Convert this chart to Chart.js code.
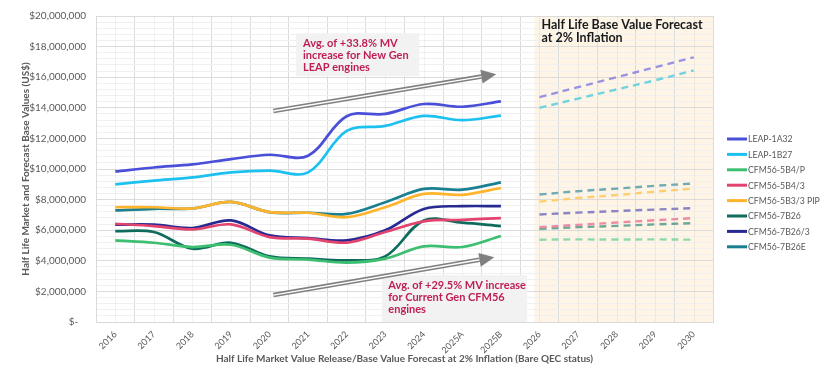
<!DOCTYPE html>
<html>
<head>
<meta charset="utf-8">
<script src="https://cdn.jsdelivr.net/npm/chart.js@4.4.1/dist/chart.umd.min.js"></script>
<style>
  body { margin: 0; background: #ffffff; }
  #wrap { width: 825px; height: 375px; position: relative; }
</style>
</head>
<body>
<div id="wrap"><canvas id="valueChart"></canvas></div>
<script>
// Yillar (2016-2025B piyasa degeri, 2026-2030 tahmin)
const years = ["2016", "2017", "2018", "2019", "2020", "2021", "2022", "2023", "2024", "2025A", "2025B",
               "2026", "2027", "2028", "2029", "2030"];

const engineNames = ["LEAP-1A32", "LEAP-1B27", "CFM56-5B4/P", "CFM56-5B4/3", "CFM56-5B3/3 PIP",
                     "CFM56-7B26", "CFM56-7B26/3", "CFM56-7B26E"];

// Half life market values (2016 - 2025B)
const leap1a32Hist = [9840000, 10100000, 10300000, 10650000, 10930000, 10870000, 13450000, 13600000, 14250000, 14070000, 14420000];
const leap1b27Hist = [9000000, 9240000, 9450000, 9780000, 9890000, 9780000, 12490000, 12820000, 13470000, 13190000, 13490000];
const cfm5b4pHist  = [5340000, 5180000, 4900000, 5050000, 4210000, 4080000, 3880000, 4140000, 4940000, 4900000, 5620000];
const cfm5b43Hist  = [6420000, 6270000, 6050000, 6380000, 5550000, 5450000, 5190000, 5880000, 6580000, 6680000, 6790000];
const cfm5b33Hist  = [7500000, 7500000, 7420000, 7850000, 7180000, 7140000, 6850000, 7500000, 8370000, 8310000, 8760000];
const cfm7b26Hist  = [5940000, 5880000, 4790000, 5180000, 4290000, 4140000, 4030000, 4290000, 6640000, 6490000, 6270000];
const cfm7b263Hist = [6360000, 6360000, 6140000, 6640000, 5660000, 5490000, 5340000, 5990000, 7390000, 7570000, 7570000];
const cfm7b26eHist = [7290000, 7400000, 7420000, 7850000, 7180000, 7140000, 7070000, 7830000, 8700000, 8650000, 9130000];

// Base value forecast at 2% inflation (2026 - 2030)
const leap1a32Fcst = [14700000, 15350000, 16000000, 16650000, 17300000];
const leap1b27Fcst = [14000000, 14600000, 15200000, 15800000, 16440000];
const cfm5b4pFcst  = [5380000, 5400000, 5390000, 5400000, 5380000];
const cfm5b43Fcst  = [6200000, 6350000, 6500000, 6650000, 6790000];
const cfm5b33Fcst  = [7870000, 8100000, 8300000, 8520000, 8720000];
const cfm7b26Fcst  = [6090000, 6200000, 6280000, 6380000, 6460000];
const cfm7b263Fcst = [7030000, 7150000, 7250000, 7350000, 7440000];
const cfm7b26eFcst = [8330000, 8550000, 8720000, 8900000, 9050000];

const yTicks = [0, 2000000, 4000000, 6000000, 8000000, 10000000, 12000000, 14000000, 16000000, 18000000, 20000000];

const histSeries = [leap1a32Hist, leap1b27Hist, cfm5b4pHist, cfm5b43Hist, cfm5b33Hist, cfm7b26Hist, cfm7b263Hist, cfm7b26eHist];
const fcstSeries = [leap1a32Fcst, leap1b27Fcst, cfm5b4pFcst, cfm5b43Fcst, cfm5b33Fcst, cfm7b26Fcst, cfm7b263Fcst, cfm7b26eFcst];

const lineColors = ["#4a4fd8", "#1cc1f0", "#3dbf72", "#e2436f", "#ffb42b", "#0f6b5c", "#272a90", "#1a7f90"];
const dashColors = ["#9a91e0", "#6fd3df", "#8fd9a8", "#ef8ba4", "#ffce70", "#6fa898", "#8a84c4", "#6fabb0"];

const FONT = "Lato, 'Open Sans', sans-serif";
const GREY = "#595959";

const datasets = [];
histSeries.forEach((vals, i) => {
    datasets.push({
        label: engineNames[i],
        data: vals.concat(new Array(fcstSeries[i].length).fill(null)),
        borderColor: lineColors[i],
        backgroundColor: lineColors[i],
        borderWidth: 2.7,
        tension: 0.35,
        pointRadius: 0,
        fill: false,
    });
});
fcstSeries.forEach((vals, i) => {
    datasets.push({
        label: engineNames[i] + " forecast",
        data: new Array(histSeries[i].length).fill(null).concat(vals),
        borderColor: dashColors[i],
        borderWidth: 2.4,
        borderDash: [7, 5],
        tension: 0.35,
        pointRadius: 0,
        fill: false,
    });
});

function money(v) {
    if (v === 0) return "$-   ";
    return "$" + v.toLocaleString("en-US");
}

function drawArrow(ctx, x1, y1, x2, y2) {
    const ang = Math.atan2(y2 - y1, x2 - x1);
    const headLen = 15, headHalf = 7;
    const bx = x2 - Math.cos(ang) * headLen, by = y2 - Math.sin(ang) * headLen;
    ctx.save();
    ctx.lineCap = "butt";
    ctx.strokeStyle = "#808080";
    ctx.lineWidth = 4.5;
    ctx.beginPath(); ctx.moveTo(x1, y1); ctx.lineTo(bx, by); ctx.stroke();
    ctx.strokeStyle = "#ffffff";
    ctx.lineWidth = 1.4;
    ctx.beginPath(); ctx.moveTo(x1, y1); ctx.lineTo(bx, by); ctx.stroke();
    ctx.fillStyle = "#808080";
    ctx.beginPath();
    ctx.moveTo(x2, y2);
    ctx.lineTo(bx + Math.sin(ang) * headHalf, by - Math.cos(ang) * headHalf);
    ctx.lineTo(bx - Math.sin(ang) * headHalf, by + Math.cos(ang) * headHalf);
    ctx.closePath();
    ctx.fill();
    ctx.restore();
}

const overlay = {
    id: "overlay",
    beforeDraw(chart) {
        const { ctx, chartArea, scales } = chart;
        const step = scales.x.getPixelForValue(1) - scales.x.getPixelForValue(0);
        const x0 = scales.x.getPixelForValue(11) - 0.13 * step;
        ctx.save();
        ctx.fillStyle = "#fef5e6";
        ctx.fillRect(x0, chartArea.top, chartArea.right - x0, chartArea.bottom - chartArea.top);
        ctx.restore();
    },
    beforeDatasetsDraw(chart) {
        // ara dikey cizgiler (kategori ortalari)
        const { ctx, chartArea, scales } = chart;
        ctx.save();
        ctx.strokeStyle = "rgba(0,0,0,0.05)";
        ctx.lineWidth = 1;
        years.forEach((y, i) => {
            const px = Math.round(scales.x.getPixelForValue(i)) + 0.5;
            ctx.beginPath(); ctx.moveTo(px, chartArea.top); ctx.lineTo(px, chartArea.bottom); ctx.stroke();
        });
        ctx.restore();
    },
    afterDraw(chart) {
        const { ctx, chartArea, scales } = chart;
        const step = scales.x.getPixelForValue(1) - scales.x.getPixelForValue(0);
        const xAt = idx => scales.x.getPixelForValue(0) + idx * step;
        const yAt = v => scales.y.getPixelForValue(v);
        ctx.save();

        // not kutulari
        ctx.fillStyle = "#f2f2f2";
        ctx.fillRect(xAt(4.69), yAt(18870000), xAt(7.88) - xAt(4.69), yAt(16070000) - yAt(18870000));
        ctx.fillRect(xAt(6.92), yAt(3060000), xAt(10.68) - xAt(6.92), chartArea.bottom - yAt(3060000));

        ctx.fillStyle = "#bf1f57";
        ctx.font = "bold 11px " + FONT;
        ctx.textAlign = "left";
        ctx.textBaseline = "middle";
        ["Avg. of +33.8% MV", "increase for New Gen", "LEAP engines"].forEach((t, i) => {
            ctx.fillText(t, xAt(4.87), yAt(18870000) + 10 + i * 12);
        });
        ["Avg. of +29.5% MV increase", "for Current Gen CFM56", "engines"].forEach((t, i) => {
            ctx.fillText(t, xAt(7.08), yAt(3060000) + 10 + i * 12);
        });

        drawArrow(ctx, xAt(4.1), yAt(13790000), xAt(9.88), yAt(16200000));
        drawArrow(ctx, xAt(4.1), yAt(1760000), xAt(9.83), yAt(4230000));

        // tahmin basligi
        ctx.fillStyle = "#1a1a1a";
        ctx.font = "bold 12.5px " + FONT;
        ctx.fillText("Half Life Base Value Forecast", xAt(11) + 2, chartArea.top + 9);
        ctx.fillText("at 2% Inflation", xAt(11) + 2, chartArea.top + 22);

        // legend
        ctx.font = "8.7px " + FONT;
        ctx.fillStyle = GREY;
        engineNames.forEach((name, i) => {
            const ly = chartArea.top + 123 + i * 15.4;
            const lx = chartArea.right + 14;
            ctx.strokeStyle = lineColors[i];
            ctx.lineWidth = 3;
            ctx.beginPath(); ctx.moveTo(lx, ly); ctx.lineTo(lx + 20, ly); ctx.stroke();
            ctx.fillText(name, lx + 21, ly + 0.5);
        });
        ctx.restore();
    }
};

new Chart(document.getElementById("valueChart"), {
    type: "line",
    data: { labels: years, datasets: datasets },
    options: {
        responsive: true,
        maintainAspectRatio: false,
        animation: false,
        layout: { padding: { top: 14, right: 112, left: 0, bottom: 0 } },
        plugins: {
            legend: { display: false },
            tooltip: { enabled: false },
        },
        scales: {
            x: {
                offset: true,
                grid: { offset: true, color: "#dcdcdc", drawTicks: false },
                border: { color: "#d9d9d9" },
                ticks: { color: GREY, font: { family: FONT, size: 9 }, minRotation: 45, maxRotation: 45, padding: 7 },
                title: {
                    display: true,
                    text: "Half Life Market Value Release/Base Value Forecast at 2% Inflation (Bare QEC status)",
                    color: GREY, font: { family: FONT, size: 10, weight: "bold" },
                    padding: { top: 0, bottom: 10 },
                },
                afterFit: s => { s.height = 53; },
            },
            y: {
                min: 0,
                max: 20000000,
                afterBuildTicks: s => {
                    const t = [];
                    for (let i = 0; i < yTicks.length - 1; i++) {
                        for (let k = 0; k < 5; k++) t.push({ value: yTicks[i] + k * (yTicks[i + 1] - yTicks[i]) / 5 });
                    }
                    t.push({ value: yTicks[yTicks.length - 1] });
                    s.ticks = t;
                },
                grid: {
                    drawTicks: false,
                    color: c => (yTicks.includes(c.tick.value) ? "#dcdcdc" : "#f0f0f0"),
                },
                border: { color: "#d9d9d9" },
                ticks: {
                    color: GREY,
                    font: { family: FONT, size: 10 },
                    padding: 10,
                    autoSkip: false,
                    callback: v => (yTicks.includes(v) ? money(v) : ""),
                },
                title: {
                    display: true,
                    text: "Half Life Market and Forecast Base Values (US$)",
                    color: GREY, font: { family: FONT, size: 10, weight: "bold" },
                    padding: { top: 20, bottom: 0 },
                },
                afterFit: s => { s.width = 96; },
            },
        },
    },
    plugins: [overlay],
});
</script>
</body>
</html>
